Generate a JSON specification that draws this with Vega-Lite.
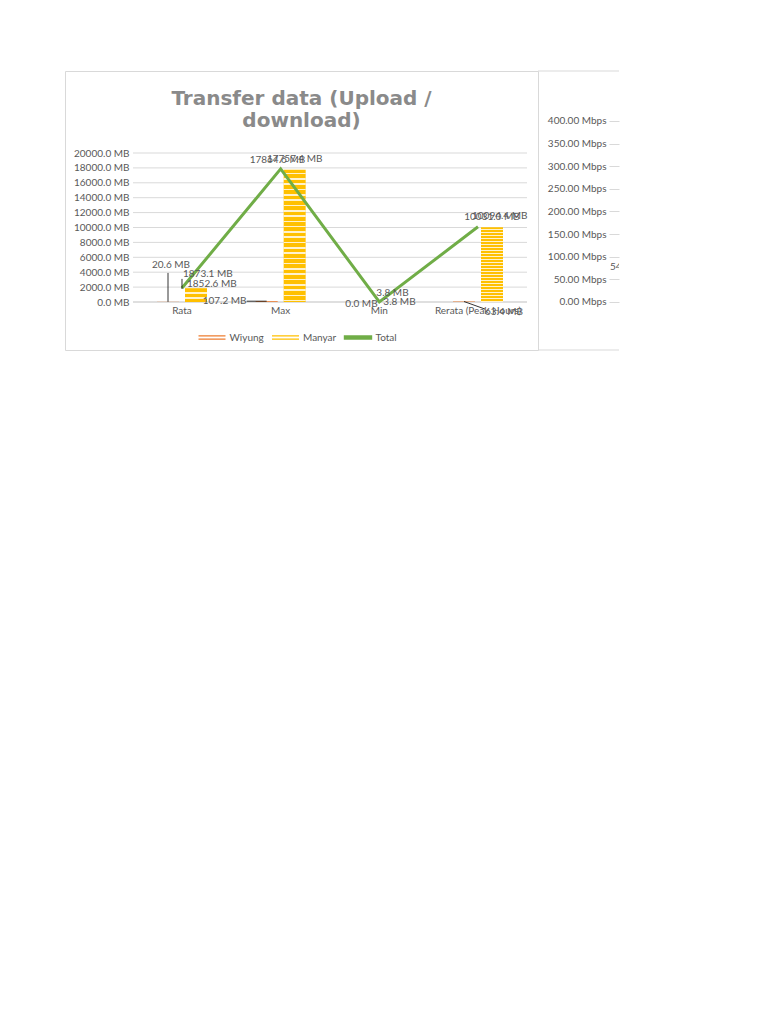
{
  "$schema": "https://vega.github.io/schema/vega-lite/v6.json",
  "padding": {"left": 64, "top": 70, "right": 0, "bottom": 0},
  "background": "white",
  "bounds": "flush",
  "spacing": 0,
  "config": {
    "font": "Lato",
    "view": {"stroke": "#d9d9d9"},
    "axis": {"labelFont": "Lato", "labelColor": "#595959", "labelFontSize": 10, "title": null, "labelOverlap": false},
    "text": {"font": "Lato", "fontSize": 10, "color": "#595959"}
  },
  "datasets": {
    "transfer": [
      {"cat": "Rata", "series": "Wiyung", "mb": 20.6},
      {"cat": "Rata", "series": "Manyar", "mb": 1852.6},
      {"cat": "Rata", "series": "Total", "mb": 1873.1},
      {"cat": "Max", "series": "Wiyung", "mb": 107.2},
      {"cat": "Max", "series": "Manyar", "mb": 17757.4},
      {"cat": "Max", "series": "Total", "mb": 17864.6},
      {"cat": "Min", "series": "Wiyung", "mb": 0},
      {"cat": "Min", "series": "Manyar", "mb": 3.8},
      {"cat": "Min", "series": "Total", "mb": 3.8},
      {"cat": "Rerata (Peak Hours)", "series": "Wiyung", "mb": 63.4},
      {"cat": "Rerata (Peak Hours)", "series": "Manyar", "mb": 10031.0},
      {"cat": "Rerata (Peak Hours)", "series": "Total", "mb": 10094.4}
    ],
    "grid": [
      {"mb": 2000}, {"mb": 4000}, {"mb": 6000}, {"mb": 8000}, {"mb": 10000},
      {"mb": 12000}, {"mb": 14000}, {"mb": 16000}, {"mb": 18000}, {"mb": 20000}
    ],
    "speed": [
      {"mbps": 77, "label": "54"}
    ]
  },
  "resolve": {
    "scale": {"x": "independent", "y": "independent", "color": "independent"},
    "legend": {"color": "independent"}
  },
  "hconcat": [
    {
      "width": 473,
      "height": 279,
      "title": {
        "text": ["Transfer data (Upload /", "download)"],
        "font": "DejaVu Sans",
        "fontSize": 20,
        "fontWeight": "bold",
        "color": "#8a8a8a",
        "anchor": "middle",
        "frame": "group",
        "lineHeight": 22,
        "offset": -60
      },
      "encoding": {
        "y": {
          "field": "mb",
          "type": "quantitative",
          "scale": {"domain": [-6443, 31007], "nice": false, "zero": false},
          "axis": {
            "orient": "left",
            "offset": -69,
            "domain": false,
            "ticks": false,
            "grid": false,
            "labelPadding": 5,
            "labelOverlap": false,
            "values": [0, 2000, 4000, 6000, 8000, 10000, 12000, 14000, 16000, 18000, 20000],
            "labelExpr": "format(datum.value, '.1f') + ' MB'"
          }
        }
      },
      "layer": [
        {
          "data": {"name": "grid"},
          "mark": {"type": "rule", "color": "#d9d9d9", "strokeWidth": 1, "xOffset": -49, "x2Offset": 49},
          "encoding": {
            "x": {
              "datum": "Rata",
              "type": "nominal",
              "axis": {
                "orient": "bottom",
                "offset": -48,
                "domain": false,
                "ticks": false,
                "labelAngle": 0,
                "labelAlign": "center",
                "labelBaseline": "top",
                "labelPadding": 3
              }
            },
            "x2": {"datum": "Rerata (Peak Hours)"}
          }
        },
        {
          "data": {"name": "transfer"},
          "transform": [{"calculate": "format(datum.mb, '.1f') + ' MB'", "as": "label"}],
          "encoding": {
            "x": {
              "field": "cat",
              "type": "nominal",
              "scale": {
                "domain": ["Rata", "Max", "Min", "Rerata (Peak Hours)"],
                "paddingInner": 0.4933,
                "paddingOuter": 0.6436,
                "align": 0.7244
              },
              "axis": {
                "orient": "bottom",
                "offset": -48,
                "domain": false,
                "ticks": false,
                "labelAngle": 0,
                "labelAlign": "center",
                "labelBaseline": "top",
                "labelPadding": 3
              }
            }
          },
          "layer": [
            {
              "mark": {"type": "rule", "color": "#bfbfbf", "strokeWidth": 1, "xOffset": -49, "x2Offset": 49},
              "transform": [{"filter": "datum.series == 'Total' && datum.cat == 'Rata'"}],
              "encoding": {
                "x": {"datum": "Rata", "type": "nominal"},
                "x2": {"datum": "Rerata (Peak Hours)"},
                "y": {"datum": 0, "type": "quantitative"}
              }
            },
            {
              "mark": {"type": "bar"},
              "transform": [{"filter": "datum.series != 'Total'"}],
              "encoding": {
                "xOffset": {"field": "series", "type": "nominal", "scale": {"domain": ["Wiyung", "Manyar"], "paddingInner": 0.214}},
                "y2": {"datum": 0},
                "color": {
                  "field": "series",
                  "type": "nominal",
                  "scale": {"domain": ["Wiyung", "Manyar", "Total"], "range": ["#ed7d31", "#ffc000", "#70ad47"]},
                  "legend": {
                    "orient": "none",
                    "legendX": 132.5,
                    "legendY": 252,
                    "direction": "horizontal",
                    "gridAlign": "none",
                    "title": null,
                    "padding": 0,
                    "symbolType": "stroke",
                    "symbolSize": 729,
                    "symbolStrokeWidth": 1.4,
                    "labelFont": "Lato",
                    "labelFontSize": 10,
                    "labelColor": "#595959",
                    "labelOffset": 3,
                    "columnPadding": 4.5,
                    "encode": {
                      "symbols": {
                        "update": {
                          "size": {"value": 729},
                          "strokeWidth": {"value": 1.4},
                          "shape": {"signal": "datum.value === 'Total' ? 'M-1,-0.11H1V0.11H-1Z' : 'M-1,-0.12H1M-1,0.12H1'"},
                          "stroke": {"signal": "datum.value === 'Wiyung' ? '#ed7d31' : datum.value === 'Manyar' ? '#ffc000' : 'transparent'"},
                          "fill": {"signal": "datum.value === 'Total' ? '#70ad47' : 'transparent'"}
                        }
                      }
                    }
                  }
                }
              }
            },
            {
              "mark": {
                "type": "bar",
                "fill": {
                  "gradient": "linear",
                  "x1": 0, "y1": 0, "x2": 0, "y2": 1,
                  "stops": [
                    {"offset": 0.024, "color": "#ffffff00"}, {"offset": 0.024, "color": "#ffffffcc"}, {"offset": 0.036, "color": "#ffffffcc"}, {"offset": 0.036, "color": "#ffffff00"},
                    {"offset": 0.064, "color": "#ffffff00"}, {"offset": 0.064, "color": "#ffffffcc"}, {"offset": 0.076, "color": "#ffffffcc"}, {"offset": 0.076, "color": "#ffffff00"},
                    {"offset": 0.104, "color": "#ffffff00"}, {"offset": 0.104, "color": "#ffffffcc"}, {"offset": 0.116, "color": "#ffffffcc"}, {"offset": 0.116, "color": "#ffffff00"},
                    {"offset": 0.144, "color": "#ffffff00"}, {"offset": 0.144, "color": "#ffffffcc"}, {"offset": 0.156, "color": "#ffffffcc"}, {"offset": 0.156, "color": "#ffffff00"},
                    {"offset": 0.184, "color": "#ffffff00"}, {"offset": 0.184, "color": "#ffffffcc"}, {"offset": 0.196, "color": "#ffffffcc"}, {"offset": 0.196, "color": "#ffffff00"},
                    {"offset": 0.224, "color": "#ffffff00"}, {"offset": 0.224, "color": "#ffffffcc"}, {"offset": 0.236, "color": "#ffffffcc"}, {"offset": 0.236, "color": "#ffffff00"},
                    {"offset": 0.264, "color": "#ffffff00"}, {"offset": 0.264, "color": "#ffffffcc"}, {"offset": 0.276, "color": "#ffffffcc"}, {"offset": 0.276, "color": "#ffffff00"},
                    {"offset": 0.304, "color": "#ffffff00"}, {"offset": 0.304, "color": "#ffffffcc"}, {"offset": 0.316, "color": "#ffffffcc"}, {"offset": 0.316, "color": "#ffffff00"},
                    {"offset": 0.344, "color": "#ffffff00"}, {"offset": 0.344, "color": "#ffffffcc"}, {"offset": 0.356, "color": "#ffffffcc"}, {"offset": 0.356, "color": "#ffffff00"},
                    {"offset": 0.384, "color": "#ffffff00"}, {"offset": 0.384, "color": "#ffffffcc"}, {"offset": 0.396, "color": "#ffffffcc"}, {"offset": 0.396, "color": "#ffffff00"},
                    {"offset": 0.424, "color": "#ffffff00"}, {"offset": 0.424, "color": "#ffffffcc"}, {"offset": 0.436, "color": "#ffffffcc"}, {"offset": 0.436, "color": "#ffffff00"},
                    {"offset": 0.464, "color": "#ffffff00"}, {"offset": 0.464, "color": "#ffffffcc"}, {"offset": 0.476, "color": "#ffffffcc"}, {"offset": 0.476, "color": "#ffffff00"},
                    {"offset": 0.504, "color": "#ffffff00"}, {"offset": 0.504, "color": "#ffffffcc"}, {"offset": 0.516, "color": "#ffffffcc"}, {"offset": 0.516, "color": "#ffffff00"},
                    {"offset": 0.544, "color": "#ffffff00"}, {"offset": 0.544, "color": "#ffffffcc"}, {"offset": 0.556, "color": "#ffffffcc"}, {"offset": 0.556, "color": "#ffffff00"},
                    {"offset": 0.584, "color": "#ffffff00"}, {"offset": 0.584, "color": "#ffffffcc"}, {"offset": 0.596, "color": "#ffffffcc"}, {"offset": 0.596, "color": "#ffffff00"},
                    {"offset": 0.624, "color": "#ffffff00"}, {"offset": 0.624, "color": "#ffffffcc"}, {"offset": 0.636, "color": "#ffffffcc"}, {"offset": 0.636, "color": "#ffffff00"},
                    {"offset": 0.664, "color": "#ffffff00"}, {"offset": 0.664, "color": "#ffffffcc"}, {"offset": 0.676, "color": "#ffffffcc"}, {"offset": 0.676, "color": "#ffffff00"},
                    {"offset": 0.704, "color": "#ffffff00"}, {"offset": 0.704, "color": "#ffffffcc"}, {"offset": 0.716, "color": "#ffffffcc"}, {"offset": 0.716, "color": "#ffffff00"},
                    {"offset": 0.744, "color": "#ffffff00"}, {"offset": 0.744, "color": "#ffffffcc"}, {"offset": 0.756, "color": "#ffffffcc"}, {"offset": 0.756, "color": "#ffffff00"},
                    {"offset": 0.784, "color": "#ffffff00"}, {"offset": 0.784, "color": "#ffffffcc"}, {"offset": 0.796, "color": "#ffffffcc"}, {"offset": 0.796, "color": "#ffffff00"},
                    {"offset": 0.824, "color": "#ffffff00"}, {"offset": 0.824, "color": "#ffffffcc"}, {"offset": 0.836, "color": "#ffffffcc"}, {"offset": 0.836, "color": "#ffffff00"},
                    {"offset": 0.864, "color": "#ffffff00"}, {"offset": 0.864, "color": "#ffffffcc"}, {"offset": 0.876, "color": "#ffffffcc"}, {"offset": 0.876, "color": "#ffffff00"},
                    {"offset": 0.904, "color": "#ffffff00"}, {"offset": 0.904, "color": "#ffffffcc"}, {"offset": 0.916, "color": "#ffffffcc"}, {"offset": 0.916, "color": "#ffffff00"},
                    {"offset": 0.944, "color": "#ffffff00"}, {"offset": 0.944, "color": "#ffffffcc"}, {"offset": 0.956, "color": "#ffffffcc"}, {"offset": 0.956, "color": "#ffffff00"},
                    {"offset": 0.984, "color": "#ffffff00"}, {"offset": 0.984, "color": "#ffffffcc"}, {"offset": 0.996, "color": "#ffffffcc"}, {"offset": 0.996, "color": "#ffffff00"}
                  ]
                }
              },
              "transform": [{"filter": "datum.series != 'Total'"}],
              "encoding": {
                "xOffset": {"field": "series", "type": "nominal"},
                "y2": {"datum": 0}
              }
            },
            {
              "mark": {"type": "line", "strokeWidth": 3},
              "transform": [{"filter": "datum.series == 'Total'"}],
              "encoding": {
                "color": {"field": "series", "type": "nominal"}
              }
            },
            {
              "mark": {"type": "rule", "color": "#000000", "strokeWidth": 0.8},
              "transform": [{"filter": "datum.series == 'Wiyung' && datum.cat == 'Rata'"}],
              "encoding": {
                "xOffset": {"field": "series", "type": "nominal"},
                "y2": {"datum": 3900}
              }
            },
            {
              "mark": {"type": "rule", "color": "#000000", "strokeWidth": 0.8, "x2Offset": -34},
              "transform": [{"filter": "datum.series == 'Wiyung' && datum.cat == 'Max'"}],
              "encoding": {
                "xOffset": {"field": "series", "type": "nominal"},
                "x2": {"datum": "Max"}
              }
            },
            {
              "mark": {"type": "rule", "color": "#000000", "strokeWidth": 0.8, "x2Offset": 7},
              "transform": [{"filter": "datum.series == 'Wiyung' && datum.cat == 'Rerata (Peak Hours)'"}],
              "encoding": {
                "xOffset": {"field": "series", "type": "nominal"},
                "x2": {"datum": "Rerata (Peak Hours)"},
                "y2": {"datum": -950}
              }
            },
            {
              "mark": {"type": "rule", "color": "#000000", "strokeWidth": 0.8},
              "transform": [{"filter": "datum.series == 'Manyar' && datum.cat == 'Rata'"}],
              "encoding": {
                "x": {"datum": "Rata", "type": "nominal"},
                "y": {"datum": 1750, "type": "quantitative"},
                "y2": {"datum": 3100}
              }
            },
            {
              "mark": {"type": "text", "align": "left", "baseline": "middle", "dx": -16, "dy": -37},
              "transform": [{"filter": "datum.series == 'Wiyung' && datum.cat == 'Rata'"}],
              "encoding": {"xOffset": {"field": "series", "type": "nominal"}, "text": {"field": "label"}}
            },
            {
              "mark": {"type": "text", "align": "left", "baseline": "middle", "dx": -64, "dy": 0},
              "transform": [{"filter": "datum.series == 'Wiyung' && datum.cat == 'Max'"}],
              "encoding": {"xOffset": {"field": "series", "type": "nominal"}, "text": {"field": "label"}}
            },
            {
              "mark": {"type": "text", "align": "left", "baseline": "middle", "dx": -20, "dy": 2},
              "transform": [{"filter": "datum.series == 'Wiyung' && datum.cat == 'Min'"}],
              "encoding": {"xOffset": {"field": "series", "type": "nominal"}, "text": {"field": "label"}}
            },
            {
              "mark": {"type": "text", "align": "left", "baseline": "middle", "dx": 21, "dy": 10},
              "transform": [{"filter": "datum.series == 'Wiyung' && datum.cat == 'Rerata (Peak Hours)'"}],
              "encoding": {"xOffset": {"field": "series", "type": "nominal"}, "text": {"field": "label"}}
            },
            {
              "mark": {"type": "text", "align": "left", "baseline": "middle", "dx": -9, "dy": -4},
              "transform": [{"filter": "datum.series == 'Manyar' && datum.cat == 'Rata'"}],
              "encoding": {"xOffset": {"field": "series", "type": "nominal"}, "text": {"field": "label"}}
            },
            {
              "mark": {"type": "text", "align": "center", "baseline": "middle", "dx": 0, "dy": -10.5},
              "transform": [{"filter": "datum.series == 'Manyar' && (datum.cat == 'Max' || datum.cat == 'Rerata (Peak Hours)')"}],
              "encoding": {"xOffset": {"field": "series", "type": "nominal"}, "text": {"field": "label"}}
            },
            {
              "mark": {"type": "text", "align": "left", "baseline": "middle", "dx": -10, "dy": 0},
              "transform": [{"filter": "datum.series == 'Manyar' && datum.cat == 'Min'"}],
              "encoding": {"xOffset": {"field": "series", "type": "nominal"}, "text": {"field": "label"}}
            },
            {
              "mark": {"type": "text", "align": "left", "baseline": "middle", "dx": 1, "dy": -14},
              "transform": [{"filter": "datum.series == 'Total' && datum.cat == 'Rata'"}],
              "encoding": {"text": {"field": "label"}}
            },
            {
              "mark": {"type": "text", "align": "left", "baseline": "middle", "dx": -31, "dy": -9},
              "transform": [{"filter": "datum.series == 'Total' && datum.cat == 'Max'"}],
              "encoding": {"text": {"field": "label"}}
            },
            {
              "mark": {"type": "text", "align": "left", "baseline": "middle", "dx": -3, "dy": -9},
              "transform": [{"filter": "datum.series == 'Total' && datum.cat == 'Min'"}],
              "encoding": {"text": {"field": "label"}}
            },
            {
              "mark": {"type": "text", "align": "left", "baseline": "middle", "dx": -6, "dy": -11},
              "transform": [{"filter": "datum.series == 'Total' && datum.cat == 'Rerata (Peak Hours)'"}],
              "encoding": {"text": {"field": "label"}}
            }
          ]
        }
      ]
    },
    {
      "width": 81,
      "height": 279,
      "view": {"stroke": null},
      "data": {"name": "speed"},
      "encoding": {
        "y": {
          "field": "mbps",
          "type": "quantitative",
          "scale": {"domain": [-106.1, 510.5], "nice": false, "zero": false},
          "axis": {
            "orient": "left",
            "offset": -81,
            "domain": false,
            "grid": false,
            "tickSize": 10,
            "tickColor": "#d9d9d9",
            "labelPadding": 3,
            "labelOverlap": false,
            "values": [0, 50, 100, 150, 200, 250, 300, 350, 400],
            "labelExpr": "format(datum.value, '.2f') + ' Mbps'"
          }
        }
      },
      "layer": [
        {
          "mark": {"type": "rule", "color": "#d9d9d9"},
          "encoding": {"y": {"datum": 510.5, "type": "quantitative"}}
        },
        {
          "mark": {"type": "rule", "color": "#d9d9d9"},
          "encoding": {"y": {"datum": -106.1, "type": "quantitative"}}
        },
        {
          "mark": {"type": "text", "align": "left", "baseline": "middle", "dx": 31.5, "clip": true},
          "encoding": {"text": {"field": "label"}}
        }
      ]
    }
  ]
}
